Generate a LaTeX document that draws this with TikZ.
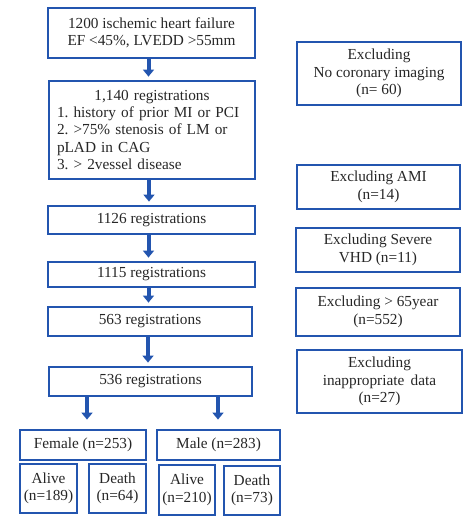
\documentclass[tikz,border=0pt]{standalone}
\usepackage{fontspec}
\setmainfont{Liberation Serif}
\usetikzlibrary{arrows.meta}
\definecolor{fblue}{RGB}{35,85,175}
\tikzset{
  box/.style={draw=fblue, line width=2.8pt, rectangle, inner sep=1pt, align=center,
    font=\fontsize{15.3}{17.4}\selectfont\frenchspacing, text=black!85},
  flow/.style={draw=fblue, line width=4pt, -{Triangle[width=11pt,length=7pt]}, shorten >=3pt}
}
\begin{document}
\begin{tikzpicture}[x=1pt,y=1pt]
\useasboundingbox (0,0) rectangle (474,-528);
% main column
\node[box, minimum width=207pt, minimum height=50pt] (b1) at (151.5,-33)
  {1200 ischemic heart failure\\EF <45\%, LVEDD >55mm};
\node[box, minimum width=206pt, minimum height=98pt, align=left, text width=190pt] (b2) at (152,-130)
  {\makebox[\linewidth]{1,140 registrations}\\1. history of prior MI or PCI\\2. >75\% stenosis of LM or\\pLAD in CAG\\3. > 2vessel disease};
\node[box, minimum width=207pt, minimum height=28pt] (b3) at (151.5,-220) {1126 registrations};
\node[box, minimum width=207pt, minimum height=25pt] (b4) at (151.5,-274.5) {1115 registrations};
\node[box, minimum width=204pt, minimum height=29pt] (b5) at (150,-321.5) {563 registrations};
\node[box, minimum width=203pt, minimum height=29pt] (b6) at (150.5,-381.5) {536 registrations};
% split
\node[box, minimum width=126pt, minimum height=30pt] (f) at (83,-445) {Female (n=253)};
\node[box, minimum width=123pt, minimum height=30pt] (m) at (218.5,-445) {Male (n=283)};
\node[box, minimum width=57pt, minimum height=49pt] (fa) at (48.5,-488.5) {Alive\\(n=189)};
\node[box, minimum width=57pt, minimum height=49pt] (fd) at (117.5,-488.5) {Death\\(n=64)};
\node[box, minimum width=56pt, minimum height=50pt] (ma) at (187,-490) {Alive\\(n=210)};
\node[box, minimum width=56pt, minimum height=49pt] (md) at (252,-490.5) {Death\\(n=73)};
% exclusions
\node[box, minimum width=164pt, minimum height=63pt] (e1) at (379,-73.5)
  {Excluding\\No coronary imaging\\(n= 60)};
\node[box, minimum width=163pt, minimum height=44pt] (e2) at (378.5,-187)
  {Excluding AMI\\(n=14)};
\node[box, minimum width=164pt, minimum height=44pt] (e3) at (378,-250)
  {Excluding Severe\\VHD (n=11)};
\node[box, minimum width=164pt, minimum height=48pt] (e4) at (378,-312)
  {Excluding > 65year\\(n=552)};
\node[box, minimum width=165pt, minimum height=63pt] (e5) at (379.5,-381.5)
  {Excluding\\inappropriate\, data\\(n=27)};
% arrows
\draw[flow] ([xshift=-3pt]b1.south) -- ([xshift=-3pt]b1.south |- b2.north);
\draw[flow] ([xshift=-3pt]b2.south) -- ([xshift=-3pt]b2.south |- b3.north);
\draw[flow] ([xshift=-3pt]b3.south) -- ([xshift=-3pt]b3.south |- b4.north);
\draw[flow] ([xshift=-3pt]b4.south) -- ([xshift=-3pt]b4.south |- b5.north);
\draw[flow] ([xshift=-2pt]b5.south) -- ([xshift=-2pt]b5.south |- b6.north);
\draw[flow, shorten >=9pt] ([xshift=4pt]f.north |- b6.south) -- ([xshift=4pt]f.north);
\draw[flow, shorten >=9pt] ([xshift=-0.5pt]m.north |- b6.south) -- ([xshift=-0.5pt]m.north);
\end{tikzpicture}
\end{document}
